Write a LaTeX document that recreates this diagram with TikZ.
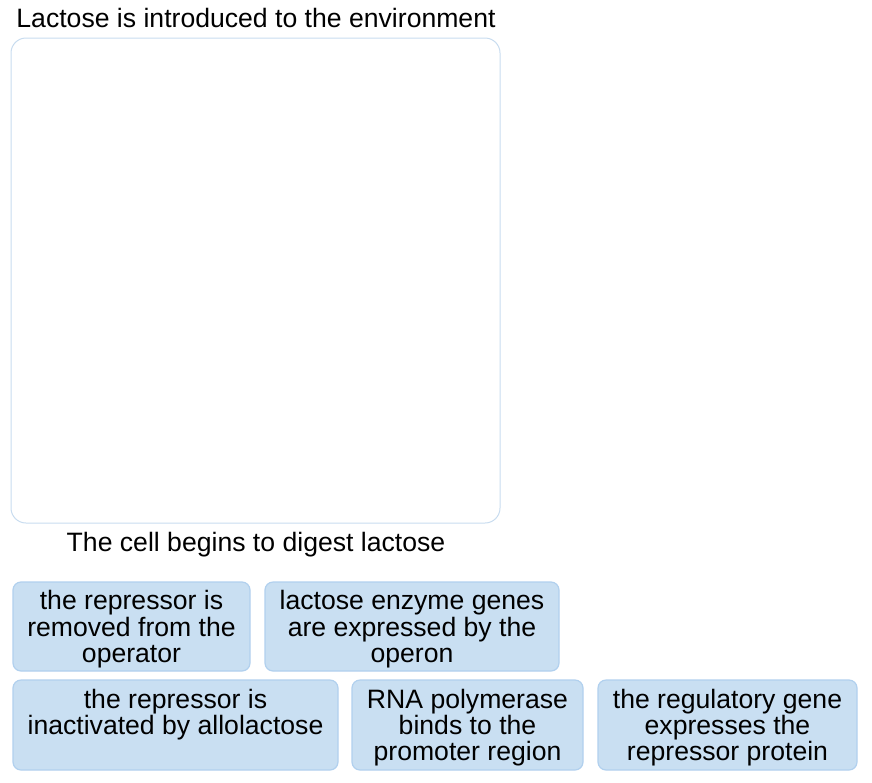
\documentclass[tikz,border=0pt]{standalone}
\usepackage{fontspec}
\setmainfont{Liberation Sans}
\usetikzlibrary{positioning}
\definecolor{cardfill}{HTML}{C9DFF2}
\definecolor{cardline}{HTML}{B1D0EE}
\definecolor{panelline}{HTML}{C8DCEF}

\begin{document}
\begin{tikzpicture}[x=1pt, y=-1pt,
    card/.style={draw=cardline, fill=cardfill, line width=1.2pt, rounded corners=8pt,
      align=center, inner sep=0pt, text depth=0pt, font=\fontsize{26.6}{26.3}\selectfont},
    caption/.style={font=\fontsize{26.6}{26}\selectfont, inner sep=0pt}]
        \useasboundingbox (0,0) rectangle (872,782);
        % drop panel
        \draw[panelline, line width=1pt, rounded corners=15pt] (11,38) rectangle (500,523);
        \node[caption] (start) at (256,18) {Lactose is introduced to the environment};
        \node[caption] (finish) at (256,544.5) {The cell begins to digest lactose};
        % answer cards
        \node[card, minimum width=237pt, minimum height=89pt] (removed) at (131.5,626.5)
          {the repressor is\\removed from the\\operator};
        \node[card, minimum width=294pt, minimum height=89pt] (expressed) at (412,626.5)
          {lactose enzyme genes\\are expressed by the\\operon};
        \node[card, minimum width=325pt, minimum height=90pt] (inactivated) at (175.5,725)
          {the repressor is\\inactivated by allolactose\\\mbox{}};
        \node[card, minimum width=231pt, minimum height=90pt] (binds) at (467.5,725)
          {RNA polymerase\\binds to the\\promoter region};
        \node[card, minimum width=259pt, minimum height=90pt] (regulatory) at (727.5,725)
          {the regulatory gene\\expresses the\\repressor protein};
      \end{tikzpicture}
\end{document}
